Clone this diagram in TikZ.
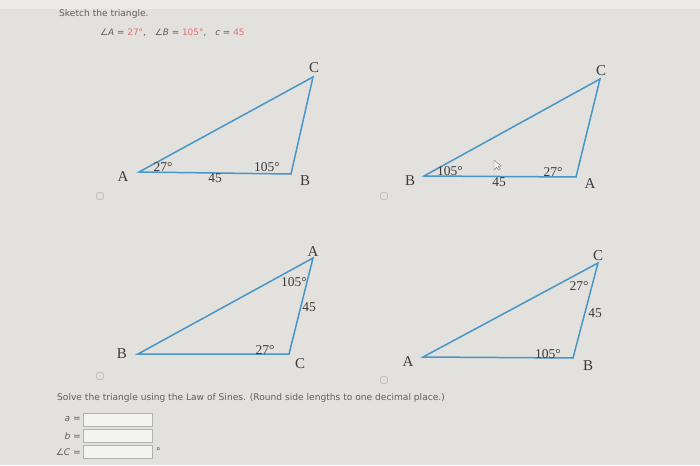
\documentclass[tikz,border=0pt]{standalone}
\usepackage{fontspec}
\setmainfont{Liberation Serif}
\newfontfamily\screenFont{DejaVu Sans}
\usetikzlibrary{positioning}
\definecolor{screenColor}{RGB}{226,225,221}
\definecolor{stripColor}{RGB}{236,235,232}
\definecolor{lineColor}{RGB}{72,150,200}
\definecolor{labelColor}{RGB}{60,58,58}
\definecolor{promptColor}{RGB}{95,95,98}
\definecolor{valueColor}{RGB}{222,112,112}
\tikzstyle{screen} = [x=1pt, y=-1pt]
\tikzstyle{triangleLine} = [color=lineColor, line width=1.5pt, line join=miter]
\tikzstyle{vertexLabel} = [color=labelColor, font=\fontsize{15}{15}\selectfont, inner sep=0pt]
\tikzstyle{angleLabel} = [color=labelColor, font=\fontsize{13.5}{13.5}\selectfont, inner sep=0pt]
\tikzstyle{promptText} = [color=promptColor, font=\screenFont\fontsize{9.1}{10}\selectfont, inner sep=0pt, anchor=west]
\tikzstyle{radioButton} = [draw=gray!70, thin, circle, minimum size=8pt, inner sep=0pt]
\tikzstyle{answerBox} = [draw=gray!60, fill=white!60!screenColor, thick, minimum width=69pt, minimum height=13pt, inner sep=0pt, anchor=west]
\newcommand{\val}[1]{\textcolor{valueColor}{#1}}
\newcommand{\sketchTriangle}[3]{\draw [triangleLine] (#1) -- (#2) -- (#3) -- cycle;}

\begin{document}
\begin{tikzpicture}[screen]
  \fill [screenColor] (0,0) rectangle (700,465);
  \fill [stripColor] (0,0) rectangle (700,9);
  \useasboundingbox (0,0) rectangle (700,465);
  % question
  \node [promptText] (title) at (59,14) {Sketch the triangle.};
  \node [promptText, font=\screenFont\fontsize{8.9}{9}\selectfont] (given) at (100,33) {∠\textit{A} = \val{27°},\quad ∠\textit{B} = \val{105°},\quad \textit{c} = \val{45}};
  % first choice
  \coordinate (oneA) at (139,172);
  \coordinate (oneB) at (291,174);
  \coordinate (oneC) at (313,77);
  \sketchTriangle{oneA}{oneB}{oneC}
  \node [vertexLabel] (oneLabelA) at (123,177) {A};
  \node [vertexLabel] (oneLabelB) at (305,181) {B};
  \node [vertexLabel] (oneLabelC) at (314,68) {C};
  \node [angleLabel] (oneAngleA) at (163,167) {27°};
  \node [angleLabel] (oneAngleB) at (267,167) {105°};
  \node [angleLabel] (oneSide) at (215,178) {45};
  \node [radioButton] (oneRadio) at (100,196) {};
  % second choice
  \coordinate (twoB) at (424,176);
  \coordinate (twoA) at (576,177);
  \coordinate (twoC) at (600,79);
  \sketchTriangle{twoB}{twoA}{twoC}
  \node [vertexLabel] (twoLabelB) at (410,181) {B};
  \node [vertexLabel] (twoLabelA) at (590,184) {A};
  \node [vertexLabel] (twoLabelC) at (601,71) {C};
  \node [angleLabel] (twoAngleB) at (450,171) {105°};
  \node [angleLabel] (twoAngleA) at (553,172) {27°};
  \node [angleLabel] (twoSide) at (499,182) {45};
  \draw [gray, fill=white!70!screenColor] (494,160) -- (494,170) -- (496.5,167.5) -- (499,170) -- (500.5,169) -- (498,166.5) -- (501,166) -- cycle;
  \node [radioButton] (twoRadio) at (384,196) {};
  % third choice
  \coordinate (threeB) at (138,354);
  \coordinate (threeC) at (289,354);
  \coordinate (threeA) at (313,258);
  \sketchTriangle{threeB}{threeC}{threeA}
  \node [vertexLabel] (threeLabelB) at (122,354) {B};
  \node [vertexLabel] (threeLabelC) at (300,364) {C};
  \node [vertexLabel] (threeLabelA) at (313,252) {A};
  \node [angleLabel] (threeAngleA) at (294,282) {105°};
  \node [angleLabel] (threeSide) at (309,307) {45};
  \node [angleLabel] (threeAngleC) at (265,350) {27°};
  \node [radioButton] (threeRadio) at (100,376) {};
  % fourth choice
  \coordinate (fourA) at (423,357);
  \coordinate (fourB) at (573,358);
  \coordinate (fourC) at (598,263);
  \sketchTriangle{fourA}{fourB}{fourC}
  \node [vertexLabel] (fourLabelA) at (408,362) {A};
  \node [vertexLabel] (fourLabelB) at (588,366) {B};
  \node [vertexLabel] (fourLabelC) at (598,256) {C};
  \node [angleLabel] (fourAngleC) at (579,286) {27°};
  \node [angleLabel] (fourSide) at (595,313) {45};
  \node [angleLabel] (fourAngleB) at (548,354) {105°};
  \node [radioButton] (fourRadio) at (384,380) {};
  % answers
  \node [promptText] (solve) at (57,398) {Solve the triangle using the Law of Sines. (Round side lengths to one decimal place.)};
  \node [answerBox] (boxA) at (83,419.5) {};
  \node [answerBox] (boxB) at (83,436) {};
  \node [answerBox] (boxC) at (83,452) {};
  \node [promptText, anchor=east] (labelA) at (81,419.5) {\textit{a} =};
  \node [promptText, anchor=east] (labelB) at (81,436) {\textit{b} =};
  \node [promptText, anchor=east] (labelC) at (81,452) {∠\textit{C} =};
  \node [promptText] (degree) at (156,451) {°};
\end{tikzpicture}
\end{document}
